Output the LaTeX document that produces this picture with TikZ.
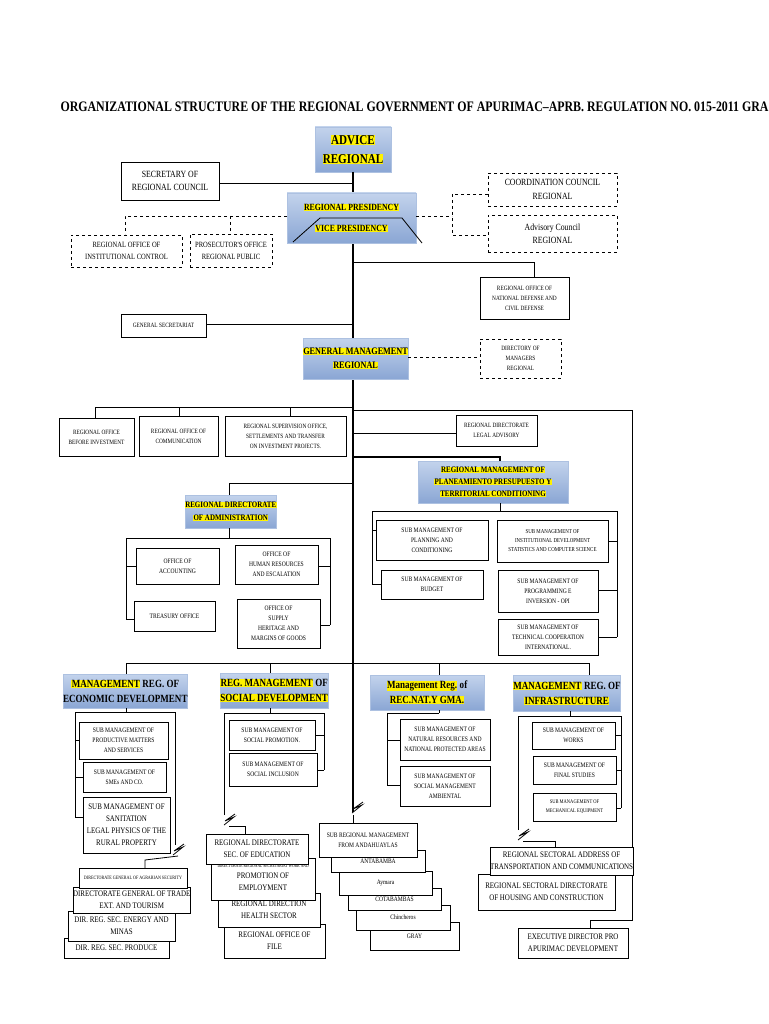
\documentclass[tikz,border=0pt]{standalone}
\usepackage{fontspec}
\setmainfont{Liberation Serif}
\newfontfamily\cond[FakeStretch=0.82]{Liberation Serif}
\definecolor{bltop}{HTML}{C3D3EC}
\definecolor{blbot}{HTML}{8AA6D4}
\begin{document}
\begin{tikzpicture}[x=1pt,y=-1pt,
  bx/.style={draw,thick,inner sep=0pt,outer sep=0pt,align=center,font=\cond\fontsize{6.8}{10}\selectfont},
  dbx/.style={bx,dashed},
  big/.style={bx,font=\cond\bfseries\fontsize{9}{13}\selectfont},
  blu/.style={inner sep=0pt,outer sep=0pt,align=center,top color=bltop,bottom color=blbot,draw=blbot!70,font=\cond\bfseries\fontsize{11}{15}\selectfont},
  ln/.style={thick},
  dln/.style={thick,dashed}]
\useasboundingbox (0,0) rectangle (768,1024);
\newcommand\hl[1]{{\setlength\fboxsep{0.3pt}\colorbox{yellow}{#1}}}
\newcommand\mybox[7]{\node[#1,anchor=north west,minimum width={(#5-#3)*1pt},minimum height={(#6-#4)*1pt}] (#2) at (#3,#4) {#7};}
\newcommand\brk[2]{\draw[thick] (#1-5,#2+5)--(#1+5,#2-3)--(#1-4,#2+1)--(#1+6,#2-6);}
\node[anchor=west,font=\cond\bfseries\fontsize{14.5}{16}\selectfont] (title) at (57,107) {ORGANIZATIONAL STRUCTURE OF THE REGIONAL GOVERNMENT OF APURIMAC–APRB. REGULATION NO. 015-2011 GRA};
% top
\mybox{blu,font=\cond\bfseries\fontsize{13.5}{19}\selectfont}{adv}{315}{127}{391}{172}{\hl{ADVICE}\\\hl{REGIONAL}}
\draw[ln,line width=1.4pt] (adv.south) -- (353,812);
\mybox{big,font=\cond\fontsize{9.5}{13}\selectfont}{sec}{121}{162}{219}{200}{SECRETARY OF\\REGIONAL COUNCIL}
\draw[ln] (sec.east |- 0,183) -- (353,183);
\mybox{blu,font=\cond\bfseries\fontsize{9.5}{12}\selectfont}{pres}{287}{193}{416}{243}{\hl{REGIONAL PRESIDENCY}\\[9pt]\hl{VICE PRESIDENCY}}
\draw[thick] (293,242)--(320,218)--(402,218)--(422,243);
\draw[dln] (pres.west |- 0,216) -- (125,216) -- (125,234);
\draw[dln] (230,216) -- (230,234);
\mybox{dbx,font=\cond\fontsize{8}{12}\selectfont}{ctrl}{71}{235}{182}{267}{REGIONAL OFFICE OF\\INSTITUTIONAL CONTROL}
\mybox{dbx,font=\cond\fontsize{8}{12}\selectfont}{pros}{190}{234}{272}{267}{PROSECUTOR'S OFFICE\\REGIONAL PUBLIC}
\mybox{dbx,font=\cond\fontsize{9.5}{14}\selectfont}{coord}{488}{173}{617}{206}{COORDINATION COUNCIL\\REGIONAL}
\mybox{dbx,font=\cond\fontsize{9.5}{13}\selectfont}{advis}{488}{215}{617}{252}{Advisory Council\\REGIONAL}
\draw[dln] (pres.east |- 0,216) -- (452,216);
\draw[dln] (coord.west |- 0,194) -- (452,194) -- (452,235) -- (advis.west |- 0,235);
\mybox{bx,font=\cond\fontsize{6.5}{10}\selectfont}{def}{480}{277}{569}{319}{REGIONAL OFFICE OF\\NATIONAL DEFENSE AND\\CIVIL DEFENSE}
\draw[ln] (353,262) -- (534,262) -- (def.north -| 534,0);
\mybox{bx,font=\cond\fontsize{6.5}{10}\selectfont}{gsec}{121}{314}{206}{337}{GENERAL SECRETARIAT}
\draw[ln] (gsec.east |- 0,324) -- (353,324);
\mybox{blu,font=\cond\bfseries\fontsize{10}{14}\selectfont}{gm}{303}{338}{404}{379}{\hl{GENERAL MANAGEMENT}\\\hl{REGIONAL}}
\mybox{dbx,font=\cond\fontsize{6.5}{10}\selectfont}{dirm}{480}{339}{561}{378}{DIRECTORY OF\\MANAGERS\\REGIONAL}
\draw[dln] (gm.east |- 0,357) -- (dirm.west |- 0,357);
% row under GM
\draw[ln] (353,407) -- (95,407) -- (95,418);
\draw[ln] (179,407) -- (179,416);
\draw[ln] (290,407) -- (290,416);
\mybox{bx,font=\cond\fontsize{6.5}{10}\selectfont}{inv}{59}{418}{134}{456}{REGIONAL OFFICE\\BEFORE INVESTMENT}
\mybox{bx,font=\cond\fontsize{6.5}{10}\selectfont}{com}{139}{416}{218}{456}{REGIONAL OFFICE OF\\COMMUNICATION}
\mybox{bx,font=\cond\fontsize{6.5}{10}\selectfont}{sup}{225}{416}{346}{456}{REGIONAL SUPERVISION OFFICE,\\SETTLEMENTS AND TRANSFER\\ON INVESTMENT PROJECTS.}
\mybox{bx,font=\cond\fontsize{6.5}{10}\selectfont}{leg}{456}{415}{537}{446}{REGIONAL DIRECTORATE\\LEGAL ADVISORY}
\draw[ln] (353,433) -- (leg.west |- 0,433);
\mybox{bx,font=\cond\fontsize{8.5}{12}\selectfont}{exe}{518}{928}{628}{958}{EXECUTIVE DIRECTOR PRO\\APURIMAC DEVELOPMENT}
\draw[ln] (353,410) -- (632,410) -- (632,920) -- (590,920) -- (exe.north -| 590,0);
% planning
\mybox{blu,font=\cond\bfseries\fontsize{8.5}{12}\selectfont}{plan}{418}{461}{568}{503}{\hl{REGIONAL MANAGEMENT OF}\\\hl{PLANEAMIENTO PRESUPUESTO Y}\\\hl{TERRITORIAL CONDITIONING}}
\draw[line width=2pt] (353,457) -- (500,457) -- (500,461);
\draw[ln] (plan.south -| 500,0) -- (500,511);
\draw[ln] (372,584) -- (372,511) -- (617,511) -- (617,637);
\draw[ln] (372,530) -- (376,530);
\draw[ln] (372,584) -- (381,584);
\draw[ln] (608,541) -- (617,541);
\draw[ln] (598,590) -- (617,590);
\draw[ln] (598,637) -- (617,637);
\mybox{bx}{pl1}{376}{520}{488}{560}{SUB MANAGEMENT OF\\PLANNING AND\\CONDITIONING}
\mybox{bx,font=\cond\fontsize{6}{9}\selectfont}{pl2}{497}{520}{608}{562}{SUB MANAGEMENT OF\\INSTITUTIONAL DEVELOPMENT\\STATISTICS AND COMPUTER SCIENCE}
\mybox{bx}{pl3}{381}{570}{483}{599}{SUB MANAGEMENT OF\\BUDGET}
\mybox{bx}{pl4}{498}{570}{598}{612}{SUB MANAGEMENT OF\\PROGRAMMING E\\INVERSION - OPI}
\mybox{bx}{pl5}{498}{619}{598}{655}{SUB MANAGEMENT OF\\TECHNICAL COOPERATION\\INTERNATIONAL.}
% admin
\mybox{blu,font=\cond\bfseries\fontsize{8.5}{13}\selectfont}{adm}{185}{495}{275}{528}{\hl{REGIONAL DIRECTORATE}\\\hl{OF ADMINISTRATION}}
\draw[ln] (353,483) -- (229,483) -- (adm.north -| 229,0);
\draw[ln] (adm.south -| 229,0) -- (229,538);
\draw[ln] (126,619) -- (126,538) -- (330,538) -- (330,625);
\draw[ln] (126,566) -- (136,566);
\draw[ln] (126,619) -- (134,619);
\draw[ln] (318,566) -- (330,566);
\draw[ln] (320,625) -- (330,625);
\mybox{bx}{ad1}{136}{548}{219}{584}{OFFICE OF\\ACCOUNTING}
\mybox{bx}{ad2}{235}{545}{318}{584}{OFFICE OF\\HUMAN RESOURCES\\AND ESCALATION}
\mybox{bx}{ad3}{134}{601}{215}{631}{TREASURY OFFICE}
\mybox{bx}{ad4}{237}{599}{320}{648}{OFFICE OF\\SUPPLY\\HERITAGE AND\\MARGINS OF GOODS}
% lower row
\draw[ln] (126,674) -- (126,663) -- (589,663) -- (589,675);
\draw[ln] (270,663) -- (270,673);
\draw[ln] (439,663) -- (439,675);
\mybox{blu}{eco}{63}{674}{186}{708}{\hl{MANAGEMENT} REG. OF\\ECONOMIC DEVELOPMENT}
\mybox{blu}{soc}{220}{673}{323}{708}{\hl{REG. MANAGEMENT} OF\\\hl{SOCIAL DEVELOPMENT}}
\mybox{blu}{rec}{370}{675}{484}{710}{\hl{Management Reg.} of\\\hl{REC.NAT.Y GMA.}}
\mybox{blu}{inf}{513}{675}{620}{711}{\hl{MANAGEMENT} REG. OF\\\hl{INFRASTRUCTURE}}
% econ children
\draw[ln] (eco.south -| 126,0) -- (126,712);
\draw[ln] (75,817) -- (75,712) -- (175,712) -- (175,845);
\draw[ln] (75,740) -- (79,740);
\draw[ln] (75,777) -- (83,777);
\draw[ln] (75,817) -- (83,817);
\mybox{bx}{ec1}{79}{722}{168}{759}{SUB MANAGEMENT OF\\PRODUCTIVE MATTERS\\AND SERVICES}
\mybox{bx}{ec2}{83}{762}{166}{792}{SUB MANAGEMENT OF\\SMEs AND CO.}
\mybox{bx,font=\cond\fontsize{8.5}{12}\selectfont}{ec3}{83}{797}{170}{853}{SUB MANAGEMENT OF\\SANITATION\\LEGAL PHYSICS OF THE\\RURAL PROPERTY}
\brk{178}{850}
\draw[ln] (178,856) -- (145,860) -- (145,868);
\mybox{bx,font=\cond\fontsize{8.5}{12}\selectfont,fill=white}{ec7}{64}{938}{169}{958}{DIR. REG. SEC. PRODUCE}
\mybox{bx,font=\cond\fontsize{8.5}{12}\selectfont,fill=white}{ec6}{68}{911}{175}{941}{DIR. REG. SEC. ENERGY AND\\MINAS}
\mybox{bx,font=\cond\fontsize{8.5}{12}\selectfont,fill=white}{ec5}{73}{887}{180}{913}{DIRECTORATE GENERAL OF TRADE\\EXT. AND TOURISM}
\mybox{bx,font=\cond\fontsize{5}{8}\selectfont,fill=white}{ec4}{79}{868}{187}{888}{DIRECTORATE GENERAL OF AGRARIAN SECURITY}
% social children
\draw[ln] (soc.south -| 270,0) -- (270,713);
\draw[ln] (224,815) -- (224,713) -- (324,713) -- (324,770);
\draw[ln] (315,735) -- (324,735);
\draw[ln] (317,770) -- (324,770);
\mybox{bx}{so1}{229}{720}{315}{750}{SUB MANAGEMENT OF\\SOCIAL PROMOTION.}
\mybox{bx}{so2}{229}{753}{317}{786}{SUB MANAGEMENT OF\\SOCIAL INCLUSION}
\brk{229}{820}
\draw[ln] (229,826) -- (245,826) -- (245,834);
\mybox{bx,font=\cond\fontsize{8.5}{12}\selectfont,fill=white}{so6}{224}{924}{325}{958}{REGIONAL OFFICE OF\\FILE}
\mybox{bx,font=\cond\fontsize{8.5}{12}\selectfont,fill=white}{so5}{218}{893}{320}{927}{REGIONAL DIRECTION\\HEALTH SECTOR}
\mybox{bx,font=\cond\fontsize{8.5}{12}\selectfont,fill=white}{so4}{211}{858}{315}{900}{\\PROMOTION OF\\EMPLOYMENT}
\node[font=\cond\fontsize{4.5}{6}\selectfont,anchor=west] (wk) at (214,866) {DIRECTORATE REGIONAL SECRETARIAT WORK AND};
\mybox{bx,font=\cond\fontsize{8.5}{12}\selectfont,fill=white}{so3}{206}{834}{308}{864}{REGIONAL DIRECTORATE\\SEC. OF EDUCATION}
% sub regional
\brk{357}{808}
\draw[ln] (353,815) -- (353,823);
\mybox{bx,fill=white}{sr6}{370}{922}{459}{950}{GRAY}
\mybox{bx,fill=white}{sr5}{356}{905}{450}{930}{Chincheros}
\mybox{bx,fill=white}{sr4}{348}{888}{441}{910}{COTABAMBAS}
\mybox{bx,fill=white}{sr3}{339}{871}{432}{895}{Aymara}
\mybox{bx,fill=white}{sr2}{331}{850}{425}{872}{ANTABAMBA}
\mybox{bx,fill=white}{sr1}{319}{823}{417}{857}{SUB REGIONAL MANAGEMENT\\FROM ANDAHUAYLAS}
% recnat
\draw[ln] (rec.south -| 439,0) -- (439,713);
\draw[ln] (387,785) -- (387,713) -- (439,713);
\draw[ln] (387,740) -- (400,740);
\draw[ln] (387,785) -- (400,785);
\mybox{bx}{rn1}{400}{719}{490}{760}{SUB MANAGEMENT OF\\NATURAL RESOURCES AND\\NATIONAL PROTECTED AREAS}
\mybox{bx}{rn2}{400}{766}{490}{806}{SUB MANAGEMENT OF\\SOCIAL MANAGEMENT\\AMBIENTAL}
% infra
\draw[ln] (inf.south -| 570,0) -- (570,716);
\draw[ln] (518,830) -- (518,716) -- (621,716) -- (621,808);
\draw[ln] (615,735) -- (621,735);
\draw[ln] (616,770) -- (621,770);
\draw[ln] (616,808) -- (621,808);
\mybox{bx}{in1}{532}{722}{615}{749}{SUB MANAGEMENT OF\\WORKS}
\mybox{bx}{in2}{533}{756}{616}{784}{SUB MANAGEMENT OF\\FINAL STUDIES}
\mybox{bx,font=\cond\fontsize{5.5}{9}\selectfont}{in3}{533}{793}{616}{821}{SUB MANAGEMENT OF\\MECHANICAL EQUIPMENT}
\brk{523}{835}
\draw[ln] (523,841) -- (555,841) -- (555,847);
\mybox{bx,font=\cond\fontsize{8.5}{12}\selectfont,fill=white}{in5}{478}{874}{615}{910}{REGIONAL SECTORAL DIRECTORATE\\OF HOUSING AND CONSTRUCTION}
\mybox{bx,font=\cond\fontsize{8.5}{12}\selectfont,fill=white}{in4}{490}{847}{630}{875}{REGIONAL SECTORAL ADDRESS OF\\TRANSPORTATION AND COMMUNICATIONS}
\end{tikzpicture}
\end{document}
